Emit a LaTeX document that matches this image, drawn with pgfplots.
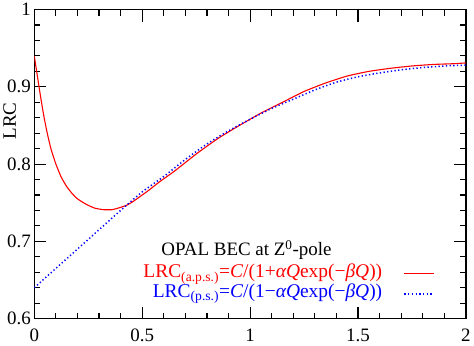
\documentclass[border=0pt]{standalone}
\usepackage{fontspec}
\setmainfont{Liberation Serif}
\usepackage{pgfplots}
\pgfplotsset{compat=1.18}
\begin{document}
\begin{tikzpicture}
\begin{axis}[
  scale only axis, width=433pt, height=310pt,
  xmin=0, xmax=2, ymin=0.6, ymax=1,
  xtick={0,0.5,1,1.5,2}, xticklabels={0,0.5,1,1.5,2},
  ytick={0.6,0.7,0.8,0.9,1}, yticklabels={0.6,0.7,0.8,0.9,1},
  minor x tick num=4, minor y tick num=4,
  tick align=inside, tick pos=both,
  major tick length=12pt, minor tick length=6pt,
  axis line style={line width=1.5pt},
  every tick/.style={black, line width=1.1pt},
  tick label style={font=\fontsize{19}{22}\selectfont},
  xticklabel style={yshift=-7pt},
  /pgf/number format/assume math mode=true,
  ylabel={LRC},
  ylabel style={at={(axis description cs:-0.057,0.64)}, anchor=center, font=\fontsize{19}{22}\selectfont},
  legend cell align=right, legend plot pos=right,
  legend style={draw=none, fill=none, inner sep=0pt, at={(axis cs:1.855,0.671)}, anchor=north east,
    font=\fontsize{19.5}{22}\selectfont, nodes={inner sep=1pt, text height=13pt, text depth=5pt}},
  legend image code/.code={\path[draw=none] (0cm,0cm) -- (0.75cm,0cm); \draw[#1] (0.75cm,0cm) -- (1.78cm,0cm);},
]
\addplot[red, line width=1.1pt, smooth, tension=0.3] coordinates {
(0,0.940) (0.011,0.920) (0.022,0.900) (0.031,0.884) (0.045,0.861) (0.060,0.840)
(0.077,0.820) (0.100,0.800) (0.125,0.783) (0.150,0.771) (0.175,0.762) (0.200,0.755)
(0.240,0.748) (0.280,0.743) (0.320,0.741) (0.360,0.741) (0.400,0.744) (0.430,0.747)
(0.460,0.752) (0.500,0.760) (0.530,0.766) (0.580,0.777) (0.650,0.791) (0.750,0.813)
(0.850,0.833) (0.950,0.850) (1.05,0.866) (1.15,0.880) (1.25,0.894) (1.35,0.905)
(1.45,0.914) (1.55,0.920) (1.65,0.924) (1.75,0.927) (1.85,0.929) (1.95,0.930) (2.0,0.931)
};
\addlegendentry{\textcolor{red}{LRC\textsubscript{(a.p.s.)}=\textit{C}/(1+\textit{αQ}exp(−\textit{βQ}))}}
\addplot[blue, line width=1.5pt, dash pattern=on 1.3pt off 2.4pt, smooth, tension=0.4] coordinates {
(0,0.640) (0.1,0.665) (0.2,0.690) (0.3,0.715) (0.4,0.740) (0.5,0.764) (0.6,0.784)
(0.7,0.806) (0.8,0.826) (0.9,0.843) (1.0,0.858) (1.1,0.872) (1.2,0.884) (1.3,0.896)
(1.4,0.906) (1.5,0.913) (1.6,0.918) (1.7,0.922) (1.8,0.925) (1.9,0.927) (2.0,0.928)
};
\addlegendentry{\textcolor{blue}{LRC\textsubscript{(p.s.)}=\textit{C}/(1−\textit{αQ}exp(−\textit{βQ}))}}
\node[font=\fontsize{19}{22}\selectfont, anchor=center] at (axis cs:0.983,0.6885) {OPAL BEC at Z\textsuperscript{0}-pole};
\node[font=\fontsize{19}{22}\selectfont, anchor=base] at (axis description cs:0.616,0) [yshift=-28pt] {\textit{Q} (GeV/c)};
\end{axis}
\end{tikzpicture}
\end{document}
